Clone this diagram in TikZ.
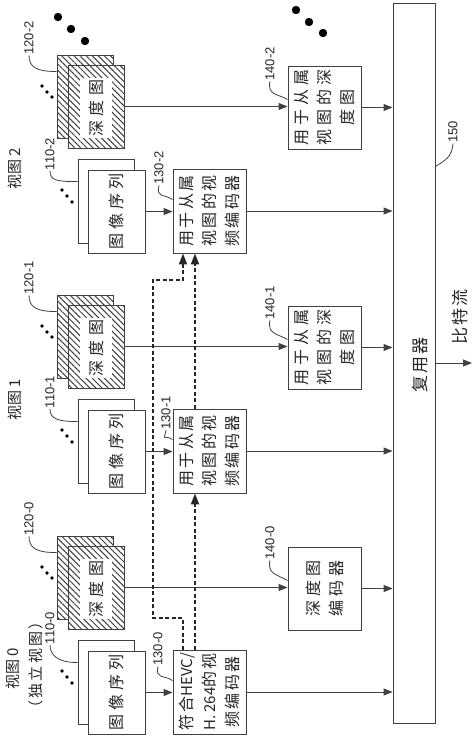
\documentclass[tikz,border=0pt]{standalone}
\usepackage{fontspec}
\setmainfont{Liberation Sans}
\newfontfamily\cjk{Noto Sans CJK SC}
\newfontfamily\cjka[LetterSpace=14]{Noto Sans CJK SC}
\newfontfamily\cjkp[LetterSpace=24]{Noto Sans CJK SC}
\newfontfamily\cjkb[LetterSpace=26]{Noto Sans CJK SC}
\newfontfamily\cjkc[LetterSpace=14]{Noto Sans CJK SC}
\usetikzlibrary{arrows.meta,patterns.meta,calc}
\begin{document}
\begin{tikzpicture}[x=1pt,y=-1pt,
  ln/.style={draw=black!75, line width=0.9pt},
  box/.style={ln, fill=white, inner sep=0pt},
  hatch/.style={ln, inner sep=0pt, preaction={fill=white},
    pattern={Lines[angle=-45,distance=4.3pt,line width=1pt]}, pattern color=black!75},
  arr/.style={ln, -{Triangle[length=9pt,width=7pt]}},
  dsh/.style={draw=black!85, line width=1.8pt, dash pattern=on 4pt off 2.5pt,
    -{Triangle[length=11pt,width=8pt]}},
  lab/.style={rotate=90, font=\fontsize{13}{13}\selectfont, inner sep=0.5pt, text=black!85},
  txt/.style={rotate=90, font=\cjka\fontsize{16}{23}\selectfont, align=center, inner sep=0pt, text=black!85},
  txtp/.style={rotate=90, font=\cjkp\fontsize{16}{23}\selectfont, align=center, inner sep=0pt, text=black!85},
  txtb/.style={rotate=90, font=\cjkb\fontsize{16}{20}\selectfont, inner sep=0pt, text=black!85},
  txtc/.style={rotate=90, font=\cjkc\fontsize{17}{20}\selectfont, inner sep=0pt, text=black!85},
  lead/.style={draw=black!75, line width=0.8pt},
  dot/.style={fill=black},
]
\useasboundingbox (0,0) rectangle (474,736);

% multiplexer
\node[box, minimum width=42pt, minimum height=720pt] (mux) at (414,363) {};
\node[txtc] (muxt) at (420,365) {复用器};
\node[txtc] (bst) at (460,317) {比特流};
\coordinate (bs) at (472,363);
\draw[arr] (mux.east) -- (bs);
\node[lab] (L150) at (453,132) {150};
\draw[lead] (L150.west) .. controls +(-1,14) and +(9,-6) .. ($(mux.north east)+(0,164)$);

% big dots
\foreach \p in {(58,17),(71,29),(85,41),(296,10),(309,22),(323,33)}
  \fill[dot] \p circle (4.2);

\foreach \k/\o/\la/\lb/\lc/\lcx/\ld in {2/0/38/154/168/159/64, 1/240/278/392/413/166/303, 0/481/519/628/649/158/543} {
  % depth maps
  \node[hatch, minimum width=56pt, minimum height=83pt] (db\k) at (85,96.5+\o) {};
  \node[hatch, minimum width=56pt, minimum height=83pt] (df\k) at (96,106.5+\o) {};
  \node[fill=white, inner sep=0pt, minimum width=32pt, minimum height=60pt] (dw\k) at (96,108+\o) {};
  \node[txtb] at (dw\k) {深度图};
  % image sequences
  \node[box, minimum width=56pt, minimum height=84pt] (sb\k) at (106,201+\o) {};
  \node[box, minimum width=57pt, minimum height=83pt] (sf\k) at (116.5,211.5+\o) {};
  \node[txtb] at (sf\k) {图像序列};
  % encoders
  \node[box, minimum width=73pt, minimum height=84pt] (c\k) at (209.5,211+\o) {};
  \node[box, minimum width=73pt, minimum height=83pt] (p\k) at (324.5,107.5+\o) {};
  % connectors
  \draw[arr] (df\k.east) -- (df\k.east -| p\k.west);
  \draw[arr] (p\k.east) -- (p\k.east -| mux.west);
  \draw[arr] (sf\k.east) -- (sf\k.east -| c\k.west);
  \draw[arr] (c\k.east) -- (c\k.east -| mux.west);
  % small dots
  \foreach \dx/\dy in {42/86,47/92,52/97,62/190,67/196,72/202}
    \fill[dot] (\dx,\dy+\o) circle (1.9);
  % labels
  \node[lab] (L120\k) at (29,\la) {120-\k};
  \draw[lead] (L120\k.west) .. controls +(0,12) and +(-20,0) .. ($(db\k.north west)+(0,17)$);
  \node[lab] (L110\k) at (50,\lb) {110-\k};
  \draw[lead] (L110\k.west) .. controls +(0,10) and +(-20,0) .. ($(sb\k.north west)+(0,23)$);
  \node[lab] (L130\k) at (\lcx,\lc) {130-\k};
  \draw[lead] (L130\k.west) .. controls +(-3,13) and +(-9,-6) .. ($(c\k.north west)+(0,31)$);
  \node[lab] (L140\k) at (270,\ld) {140-\k};
  \draw[lead] (L140\k.west) .. controls +(-3,14) and +(-10,-6) .. ($(p\k.north west)+(0,34)$);
}

% encoder texts
\node[txt] at (c2) {用于从属\\视图的视\\频编码器};
\node[txt] at (c1) {用于从属\\视图的视\\频编码器};
\node[txt] at (c0) {符合{\cjk\fontsize{15}{23}\selectfont HEVC/}\\{\cjk\fontsize{15}{23}\selectfont H.~264}的视\\频编码器};
\node[txtp] at (p2) {用于从属\\视图的深\\度图};
\node[txtp] at (p1) {用于从属\\视图的深\\度图};
\node[txtp] at (p0) {深度图\\编码器};

% view titles
\node[rotate=90, font=\cjk\fontsize{15}{15}\selectfont, text=black!85] (v2) at (15,169) {视图 2};
\node[rotate=90, font=\cjk\fontsize{15}{15}\selectfont, text=black!85] (v1) at (15,400) {视图 1};
\node[rotate=90, font=\cjk\fontsize{15}{15}\selectfont, text=black!85] (v0) at (13,669) {视图 0};
\node[rotate=90, font=\cjkc\fontsize{15}{15}\selectfont, text=black!85] (v0b) at (36,665) {（独立视图）};

% inter-view dashed connectors
\coordinate (ka1) at (183,618);
\coordinate (ka2) at (153,618);
\coordinate (ka3) at (153,280);
\coordinate (ka4) at (183,280);
\coordinate (kb) at (195,0);
\draw[dsh] (c0.north -| ka1) -- (ka1) -- (ka2) -- (ka3) -- (ka4) -- (c2.south -| ka4);
\draw[dsh] (c0.north -| kb) -- (c1.south -| kb);
\draw[dsh] (c1.north -| kb) -- (c2.south -| kb);
\end{tikzpicture}
\end{document}
